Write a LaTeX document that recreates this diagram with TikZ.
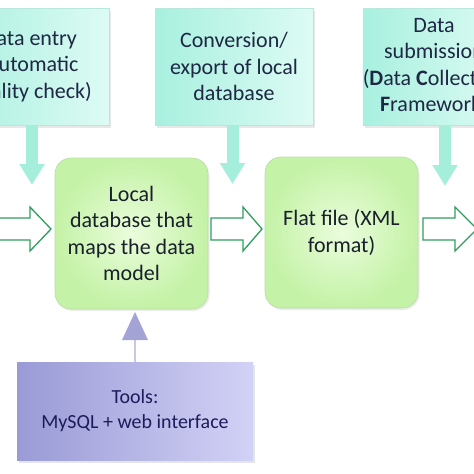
\documentclass[tikz,border=0pt]{standalone}
\usepackage{fontspec}
\setmainfont{Carlito}
\usetikzlibrary{arrows.meta,shadows}
\definecolor{cyanA}{HTML}{A8F0DF}
\definecolor{cyanB}{HTML}{DDFBF4}
\definecolor{cyanEdge}{HTML}{B8E8DC}
\definecolor{cyanArrow}{HTML}{A6EEDC}
\definecolor{greenIn}{HTML}{EAFDDC}
\definecolor{greenOut}{HTML}{C4F2A6}
\definecolor{greenEdge}{HTML}{B9DDA6}
\definecolor{blockEdge}{HTML}{2F9E5C}
\definecolor{purpA}{HTML}{9A9AD6}
\definecolor{purpB}{HTML}{D2D2F6}
\definecolor{purpArrow}{HTML}{A3A3D6}
\definecolor{txt}{HTML}{1E2744}
\definecolor{txtDark}{HTML}{1A1F2C}
\definecolor{txtPurp}{HTML}{1C1C5C}
\tikzset{
  callout/.style={rectangle, minimum height=117pt, inner sep=0pt,
    left color=cyanA, right color=cyanB, draw=cyanEdge, line width=0.4pt,
    drop shadow={opacity=0.18, shadow xshift=2pt, shadow yshift=-3pt},
    text=txt, font=\fontsize{22}{26.5}\selectfont, align=center},
  procbox/.style={rectangle, rounded corners=16pt, minimum width=153pt, minimum height=151pt,
    inner sep=0pt, inner color=greenIn, outer color=greenOut, draw=greenEdge, line width=0.6pt,
    drop shadow={opacity=0.15, shadow xshift=1.5pt, shadow yshift=-2pt},
    text=txtDark, font=\fontsize{22}{26.5}\selectfont, align=center},
  toolbox/.style={rectangle, minimum width=236pt, minimum height=98pt, inner sep=0pt,
    left color=purpA, right color=purpB, draw=none,
    drop shadow={opacity=0.2, shadow xshift=2pt, shadow yshift=-3pt},
    text=txtPurp, font=\fontsize{20}{25}\selectfont, align=center},
  callarrow/.style={draw=cyanArrow, line width=12pt,
    -{Triangle[width=24pt,length=21pt]}},
  blockarrow/.style={draw=blockEdge, fill=white, line width=1.3pt, line join=miter},
}
\begin{document}
\begin{tikzpicture}[x=1pt,y=-1pt]
\useasboundingbox (0,0) rectangle (474,474);
\clip (0,0) rectangle (474,474);
\fill[white] (0,0) rectangle (474,474);

% callouts
\node[callout, minimum width=158pt] (c1) at (30,66.5) {Data entry\\(automatic\\quality check)};
\node[callout, minimum width=158pt] (c2) at (234,66.5) {Conversion/\\export of local\\database};
\node[callout, minimum width=134pt] (c3) at (434,66.5) {Data\\submission\\(\textbf{D}ata \textbf{C}ollection\\\textbf{F}ramework)};

% process boxes
\node[procbox] (db) at (131.5,233.5) {Local\\database that\\maps the data\\model};
\node[procbox] (ff) at (341.5,232.5) {Flat file (XML\\format)};

% tools box
\node[toolbox] (tools) at (135,411) {Tools:\\MySQL + web interface};

% callout arrows
\coordinate (t1) at (32,185);
\coordinate (t2) at (232.5,184);
\coordinate (t3) at (445,186);
\draw[callarrow] (c1.south -| t1) -- (t1);
\draw[callarrow] (c2.south -| t2) -- (t2);
\draw[callarrow] (c3.south -| t3) -- (t3);

% tools arrow
\coordinate (tt) at (135,312);
\draw[purpArrow!60, line width=1.5pt] (tools.north) -- (135,340);
\fill[purpArrow] (tt) -- (148,340) -- (122,340) -- cycle;

% block arrows
\draw[blockarrow] (-5,218) -- (30,218) -- (30,207) -- (51,229) -- (30,251) -- (30,240) -- (-5,240) -- cycle;
\draw[blockarrow] (211,218) -- (243,218) -- (243,207) -- (262,229) -- (243,251) -- (243,240) -- (211,240) -- cycle;
\draw[blockarrow] (423,218) -- (455,218) -- (455,207) -- (477,229) -- (455,251) -- (455,240) -- (423,240) -- cycle;
\end{tikzpicture}
\end{document}
